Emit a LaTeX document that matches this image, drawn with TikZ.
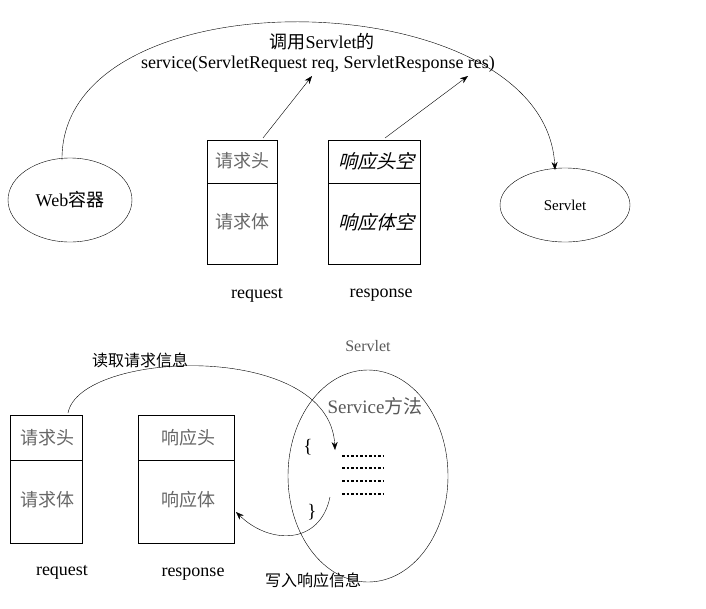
\documentclass[tikz,border=0pt]{standalone}
\usepackage{fontspec}
\setmainfont{Liberation Serif}
\newfontfamily\cjk{Noto Sans CJK SC}
\usetikzlibrary{arrows.meta}
\begin{document}
\begin{tikzpicture}[x=1pt,y=-1pt,
  box/.style={draw,thin},
  gt/.style={text=gray!80!black,font=\cjk\fontsize{18}{20}\selectfont},
  lab/.style={font=\fontsize{18}{20}\selectfont},
  arr/.style={-{Stealth[length=8pt,width=6pt]},thin}]
\useasboundingbox (0,0) rectangle (706,608);
% top
\draw (70,200) ellipse [x radius=62, y radius=42];
\node[font=\fontsize{18}{20}\selectfont] (web) at (70,200) {Web{\cjk 容器}};
\draw (565,205) ellipse [x radius=65, y radius=37];
\node[font=\fontsize{15}{17}\selectfont] (srv) at (565,205) {Servlet};
\coordinate (a1) at (62,160);
\coordinate (a2) at (555,170);
\draw[arr] (a1) .. controls (60,-30) and (545,-20) .. (a2);
\node[lab] (t1) at (322,42) {{\cjk 调用}Servlet{\cjk 的}};
\node[lab] (t2) at (318,64) {service(ServletRequest req, ServletResponse res)};
\draw[box] (207,140) rectangle (277,264);
\draw (207,183) -- (277,183);
\node[gt] (rh) at (242,161) {请求头};
\node[gt] (rb) at (242,222) {请求体};
\draw[box] (328,140) rectangle (420,264);
\draw (328,183) -- (420,183);
\node[font=\cjk\fontsize{19}{21}\selectfont] (sh) at (376,161) {\addfontfeature{FakeSlant=0.25}响应头空};
\node[font=\cjk\fontsize{19}{21}\selectfont] (sb) at (376,222) {\addfontfeature{FakeSlant=0.25}响应体空};
\coordinate (p1) at (263,138); \coordinate (q1) at (312,76);
\coordinate (p2) at (385,138); \coordinate (q2) at (468,76);
\draw[arr] (p1) -- (q1);
\draw[arr] (p2) -- (q2);
\node[lab] (req1) at (257,295) {request};
\node[lab] (res1) at (381,295) {response};
% bottom
\node[font=\fontsize{16}{18}\selectfont,text=gray!70!black] (srv2) at (368,346) {Servlet};
\draw (368,476) ellipse [x radius=80, y radius=106];
\node[font=\fontsize{19}{21}\selectfont,text=gray!70!black] (sm) at (375,406) {Service{\cjk 方法}};
\node[font=\fontsize{19}{21}\selectfont] (lb) at (308,447) {\{};
\node[font=\fontsize{19}{21}\selectfont] (rb2) at (312,512) {\}};
\foreach \y in {456,468,481,494}
  \draw[line width=2.5pt,dash pattern=on 2.5pt off 2pt] (342,\y) -- (384,\y);
\draw[box] (10,415) rectangle (82,543);
\draw (10,460) -- (82,460);
\node[gt] (rh2) at (47,438) {请求头};
\node[gt] (rb3) at (47,500) {请求体};
\draw[box] (138,415) rectangle (234,543);
\draw (138,460) -- (234,460);
\node[gt] (sh2) at (188,438) {响应头};
\node[gt] (sb2) at (188,500) {响应体};
\node[font=\cjk\fontsize{16}{18}\selectfont] (read) at (140,360) {读取请求信息};
\coordinate (c1) at (68,413); \coordinate (c2) at (335,450);
\draw[arr] (c1) .. controls (80,350) and (330,340) .. (c2);
\node[font=\cjk\fontsize{16}{18}\selectfont] (write) at (313,580) {写入响应信息};
\coordinate (d1) at (330,497); \coordinate (d2) at (236,512);
\draw[arr] (d1) .. controls (320,545) and (270,545) .. (d2);
\node[lab] (req2) at (62,572) {request};
\node[lab] (res2) at (193,574) {response};
\end{tikzpicture}
\end{document}
